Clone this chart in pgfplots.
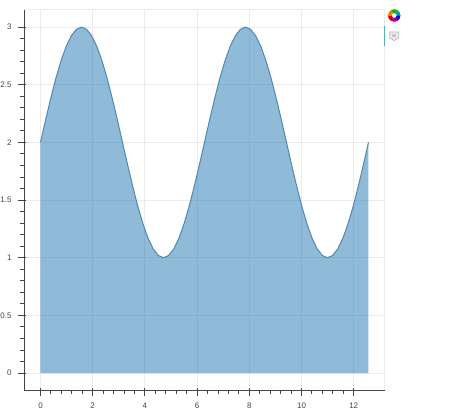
\documentclass[border=0pt]{standalone}
\usepackage{fontspec}
\setmainfont{Liberation Sans}
\usepackage{pgfplots}
\usepackage{pgfplotstable}
\pgfplotsset{compat=1.18}
\definecolor{barea}{HTML}{1F77B4}
\definecolor{bline}{HTML}{5088AE}
\definecolor{bgrid}{HTML}{EBEBEB}
\definecolor{baxis}{HTML}{444444}
\pgfplotstableread{
x y
0 2.0000
0.1963 2.1951
0.3927 2.3827
0.5890 2.5556
0.7854 2.7071
0.9817 2.8315
1.1781 2.9239
1.3744 2.9808
1.5708 3.0000
1.7671 2.9808
1.9635 2.9239
2.1598 2.8315
2.3562 2.7071
2.5525 2.5556
2.7489 2.3827
2.9452 2.1951
3.1416 2.0000
3.3379 1.8049
3.5343 1.6173
3.7306 1.4444
3.9270 1.2929
4.1233 1.1685
4.3197 1.0761
4.5160 1.0192
4.7124 1.0000
4.9087 1.0192
5.1051 1.0761
5.3014 1.1685
5.4978 1.2929
5.6941 1.4444
5.8905 1.6173
6.0868 1.8049
6.2832 2.0000
6.4795 2.1951
6.6759 2.3827
6.8722 2.5556
7.0686 2.7071
7.2649 2.8315
7.4613 2.9239
7.6576 2.9808
7.8540 3.0000
8.0503 2.9808
8.2467 2.9239
8.4430 2.8315
8.6394 2.7071
8.8357 2.5556
9.0321 2.3827
9.2284 2.1951
9.4248 2.0000
9.6211 1.8049
9.8175 1.6173
10.0138 1.4444
10.2102 1.2929
10.4065 1.1685
10.6029 1.0761
10.7992 1.0192
10.9956 1.0000
11.1919 1.0192
11.3883 1.0761
11.5846 1.1685
11.7810 1.2929
11.9773 1.4444
12.1737 1.6173
12.3700 1.8049
12.5664 2.0000
}\curve
\begin{document}
\begin{tikzpicture}[x=1pt,y=1pt]
\path[use as bounding box] (0,0) rectangle (474,414);
\begin{axis}[
  at={(24pt,24pt)}, anchor=south west,
  scale only axis, width=360.5pt, height=381pt,
  xmin=-0.632, xmax=13.18, ymin=-0.147, ymax=3.157,
  axis x line*=bottom, axis y line*=left,
  axis line style={baxis,line width=0.9pt,-},
  xtick={0,2,4,6,8,10,12}, ytick={0,0.5,1,1.5,2,2.5,3},
  minor x tick num=4, minor y tick num=4,
  tick align=outside,
  major tick length=8pt, minor tick length=4pt,
  tick style={baxis,line width=0.9pt},
  major x tick style={yshift=2pt},
  major y tick style={xshift=2pt},
  xmajorgrids, ymajorgrids,
  grid style={bgrid,line width=0.8pt},
  tick label style={font=\fontsize{8}{9}\selectfont,text=baxis,/pgf/number format/assume math mode=true},
  xticklabel style={yshift=-1pt},
  yticklabel style={xshift=-1pt},
  clip=false,
]
\draw[bgrid,line width=0.8pt] (rel axis cs:0,1) -- (rel axis cs:1,1) -- (rel axis cs:1,0);
\addplot[draw=none,fill=barea,fill opacity=0.5] table {\curve} \closedcycle;
\addplot[bline,line width=1pt] table {\curve};
\end{axis}
% toolbar furniture
\definecolor{bbar}{HTML}{4FB3C2}
\fill[bbar] (383.8,368) rectangle (385.4,388);
\begin{scope}[shift={(394.2,398.5)}]
\foreach \c/\a in {green!75!black/90,teal!70!cyan/30,blue!70!violet/330,violet!70!magenta/270,red!85!black/210,orange/150}{
  \fill[\c] (\a-31:2.6) arc (\a-31:\a+31:2.6) -- (\a+31:6.3) arc (\a+31:\a-31:6.3) -- cycle;
}
\end{scope}
\begin{scope}[shift={(394.2,378)}]
\draw[gray!55,line width=0.8pt,fill=gray!15] (-4.5,4) -- (4.5,4) -- (4.5,-1.8) -- (0,-4.6) -- (-4.5,-1.8) -- cycle;
\fill[gray!45] (-2,1.8) rectangle (2,-1);
\end{scope}
\end{tikzpicture}
\end{document}
